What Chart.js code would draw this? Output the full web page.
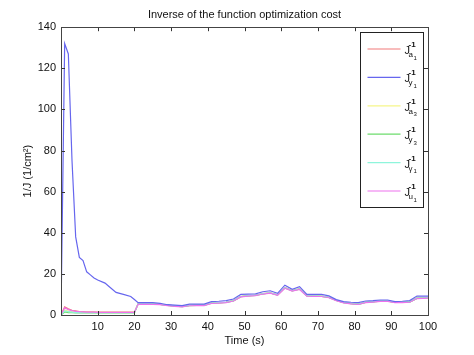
<!DOCTYPE html>
<html>
<head>
<meta charset="utf-8">
<script src="https://cdn.jsdelivr.net/npm/chart.js@4/dist/chart.umd.min.js"></script>
<style>
html,body{margin:0;padding:0;background:#fff;}
#wrap{width:474px;height:355px;}
</style>
</head>
<body>
<div id="wrap"><canvas id="c" width="474" height="355"></canvas></div>
<script>
const times = [0,1,2,3,4,5,6,7,8,9,10,12,13,15,17,19,20,
  21,23,25,27,29,31,33,35,37,39,
  41,43,45,47,49,51,53,55,57,59,
  61,63,65,67,69,71,73,75,77,79,
  81,83,85,87,89,91,93,95,97,100];

const y1 = [0,132,127,75,38,28,26.5,21,19.5,18,17,15.5,14,11,10,9,7.5,
  6,6,6,5.7,5,4.8,4.6,5.3,5.3,5.3,
  6.5,6.7,7,7.8,10,10.2,10.3,11.3,11.8,10.5,
  14.5,12.5,13.8,10,10,10,9.3,7.5,6.5,6.2,
  6,6.8,7,7.3,7.3,6.5,6.7,7,9.2,9.2];

const a1 = [0,4,3,2.3,2,1.7,1.6,1.5,1.5,1.5,1.4,1.4,1.4,1.4,1.4,1.4,1.4,
  5.4,5.5,5.4,5.2,4.8,4.4,4.2,4.7,4.8,4.8,
  5.8,6,6.2,7,9,9.4,9.6,10.4,10.8,9.8,
  13.4,11.9,12.8,9.4,9.3,9.2,8.6,7.2,6.1,5.6,
  5.3,6.2,6.5,6.8,6.8,6.2,6.2,6.4,8.3,8.5];

const a3 = [0,2.5,1.9,1.6,1.5,1.4,1.3,1.3,1.3,1.3,1.3,1.3,1.3,1.3,1.3,1.3,1.3,
  5.3,5.4,5.3,5.1,4.7,4.3,4.1,4.6,4.7,4.7,
  5.7,5.9,6.1,6.9,8.9,9.3,9.5,10.3,10.7,9.7,
  13.2,11.7,12.6,9.3,9.2,9.1,8.5,7.1,6,5.5,
  5.2,6.1,6.4,6.7,6.7,6.1,6.1,6.3,8.1,8.3];

const y3 = [0,1.5,1.2,1.1,1,1,1,1,1,1,1,1,1,1,1,1,1,
  5.3,5.4,5.3,5.1,4.7,4.3,4.1,4.6,4.7,4.7,
  5.7,5.9,6.1,6.9,8.9,9.3,9.5,10.3,10.7,9.7,
  13.2,11.7,12.6,9.3,9.2,9.1,8.5,7.1,6,5.5,
  5.2,6.1,6.4,6.7,6.7,6.1,6.1,6.3,8.1,8.3];

const g1 = [0,2,1.6,1.4,1.2,1.2,1.1,1.1,1.1,1.1,1.1,1.1,1.1,1.1,1.1,1.1,1.1,
  5.4,5.5,5.4,5.2,4.8,4.4,4.2,4.7,4.8,4.8,
  5.8,6,6.2,7,9,9.4,9.6,10.4,10.8,9.8,
  13.3,11.8,12.7,9.4,9.3,9.2,8.6,7.2,6.1,5.6,
  5.3,6.2,6.5,6.9,6.9,6.3,6.2,6.4,8.2,8.4];

const u1 = [0,3.5,2.6,2.1,1.8,1.6,1.5,1.4,1.4,1.4,1.3,1.3,1.3,1.3,1.3,1.3,1.3,
  5.2,5.3,5.2,5,4.6,4.2,4,4.5,4.6,4.6,
  5.6,5.8,6,6.8,8.8,9.2,9.4,10.2,10.6,9.6,
  13,11.6,12.4,9.2,9.1,9,8.4,7,5.9,5.4,
  5.1,6,6.3,6.6,6.6,6,6,6.2,8,8.2];

const seriesNames = ['J_a1^-1','J_y1^-1','J_a3^-1','J_y3^-1','J_γ1^-1','J_u1^-1'];
const legendSub = ['a','y','a','y','γ','u'];
const legendSubIdx = ['1','1','3','3','1','1'];
const seriesValues = [a1, y1, a3, y3, g1, u1];
const colors = ['#f27a7a','#6666ee','#f6f68a','#6cdc6c','#8ef5dc','#ee72ee'];

const yTicks = [0,20,40,60,80,100,120,140];
const xTicks = [0,10,20,30,40,50,60,70,80,90,100];

const FONT = "'Liberation Sans', Arial, Helvetica, sans-serif";
const drawOrder = [0,2,3,4,5,1];

const datasets = seriesValues.map((vals,i)=>({
  label: seriesNames[i],
  data: times.map((t,k)=>({x:t,y:vals[k]})),
  borderColor: colors[i],
  backgroundColor: colors[i],
  borderWidth: 1.2,
  pointRadius: 0,
  tension: 0,
  fill: false,
  order: 5 - drawOrder.indexOf(i)
}));

const framePlugin = {
  id: 'frame',
  afterDraw(chart){
    const {ctx, chartArea:a, scales} = chart;
    ctx.save();
    ctx.strokeStyle = '#333';
    ctx.lineWidth = 1;
    const L = 4;
    ctx.beginPath();
    xTicks.forEach(v=>{
      const px = Math.round(scales.x.getPixelForValue(v))+0.5;
      ctx.moveTo(px, a.bottom); ctx.lineTo(px, a.bottom-L);
      ctx.moveTo(px, a.top); ctx.lineTo(px, a.top+L);
    });
    yTicks.forEach(v=>{
      const py = Math.round(scales.y.getPixelForValue(v))+0.5;
      ctx.moveTo(a.left, py); ctx.lineTo(a.left+L, py);
      ctx.moveTo(a.right, py); ctx.lineTo(a.right-L, py);
    });
    ctx.stroke();
    ctx.strokeStyle = '#444';
    ctx.strokeRect(Math.round(a.left)+0.5, Math.round(a.top)+0.5, Math.round(a.right-a.left), Math.round(a.bottom-a.top));
    ctx.restore();

    // legend
    ctx.save();
    const bx = Math.round(a.right) - 67.5, by = Math.round(a.top) + 5.5, bw = 63, bh = 175;
    ctx.fillStyle = '#fff';
    ctx.fillRect(bx, by, bw, bh);
    ctx.strokeStyle = '#222';
    ctx.lineWidth = 1;
    ctx.strokeRect(bx, by, bw, bh);
    seriesNames.forEach((n,i)=>{
      const ly = by + 16.5 + i*28.4;
      ctx.strokeStyle = colors[i];
      ctx.lineWidth = 1.2;
      ctx.beginPath();
      ctx.moveTo(bx+7, ly); ctx.lineTo(bx+40, ly);
      ctx.stroke();
      ctx.fillStyle = '#111';
      ctx.textBaseline = 'alphabetic';
      ctx.textAlign = 'left';
      ctx.font = '11px ' + FONT;
      ctx.fillText('J', bx+44, ly+5);
      ctx.font = 'bold 8px ' + FONT;
      ctx.fillText('-1', bx+48, ly-2);
      ctx.font = '8px ' + FONT;
      ctx.fillText(legendSub[i], bx+48, ly+8);
      ctx.font = '6px ' + FONT;
      ctx.fillText(legendSubIdx[i], bx+53, ly+10.5);
    });
    ctx.restore();
  }
};

new Chart(document.getElementById('c'), {
  type: 'line',
  data: { datasets },
  options: {
    responsive: false,
    animation: false,
    layout: { padding: { left: 0, right: 46, top: 0, bottom: 0 } },
    plugins: {
      legend: { display: false },
      tooltip: { enabled: false },
      title: {
        display: true,
        text: 'Inverse of the function optimization cost',
        color: '#111',
        fullSize: false,
        font: { family: FONT, size: 11, weight: 'normal' },
        padding: { top: 8, bottom: 6 }
      }
    },
    scales: {
      x: {
        type: 'linear',
        min: 0, max: 100,
        afterBuildTicks(s){ s.ticks = xTicks.map(v=>({value:v})); },
        afterFit(s){ s.height = 40; },
        grid: { display: false, drawTicks: false },
        border: { display: false },
        ticks: {
          color: '#111',
          padding: 5,
          maxRotation: 0,
          font: { family: FONT, size: 11 },
          callback: v => v === 0 ? '' : String(v)
        },
        title: {
          display: true,
          text: 'Time (s)',
          color: '#111',
          font: { family: FONT, size: 11 },
          padding: { top: 0, bottom: 7 }
        }
      },
      y: {
        type: 'linear',
        min: 0, max: 140,
        afterBuildTicks(s){ s.ticks = yTicks.map(v=>({value:v})); },
        afterFit(s){ s.width = 61; },
        grid: { display: false, drawTicks: false },
        border: { display: false },
        ticks: {
          color: '#111',
          padding: 5,
          font: { family: FONT, size: 11 }
        },
        title: {
          display: true,
          text: '1/J (1/cm²)',
          color: '#111',
          font: { family: FONT, size: 11 },
          padding: { top: 21, bottom: 0 }
        }
      }
    }
  },
  plugins: [framePlugin]
});
</script>
</body>
</html>
